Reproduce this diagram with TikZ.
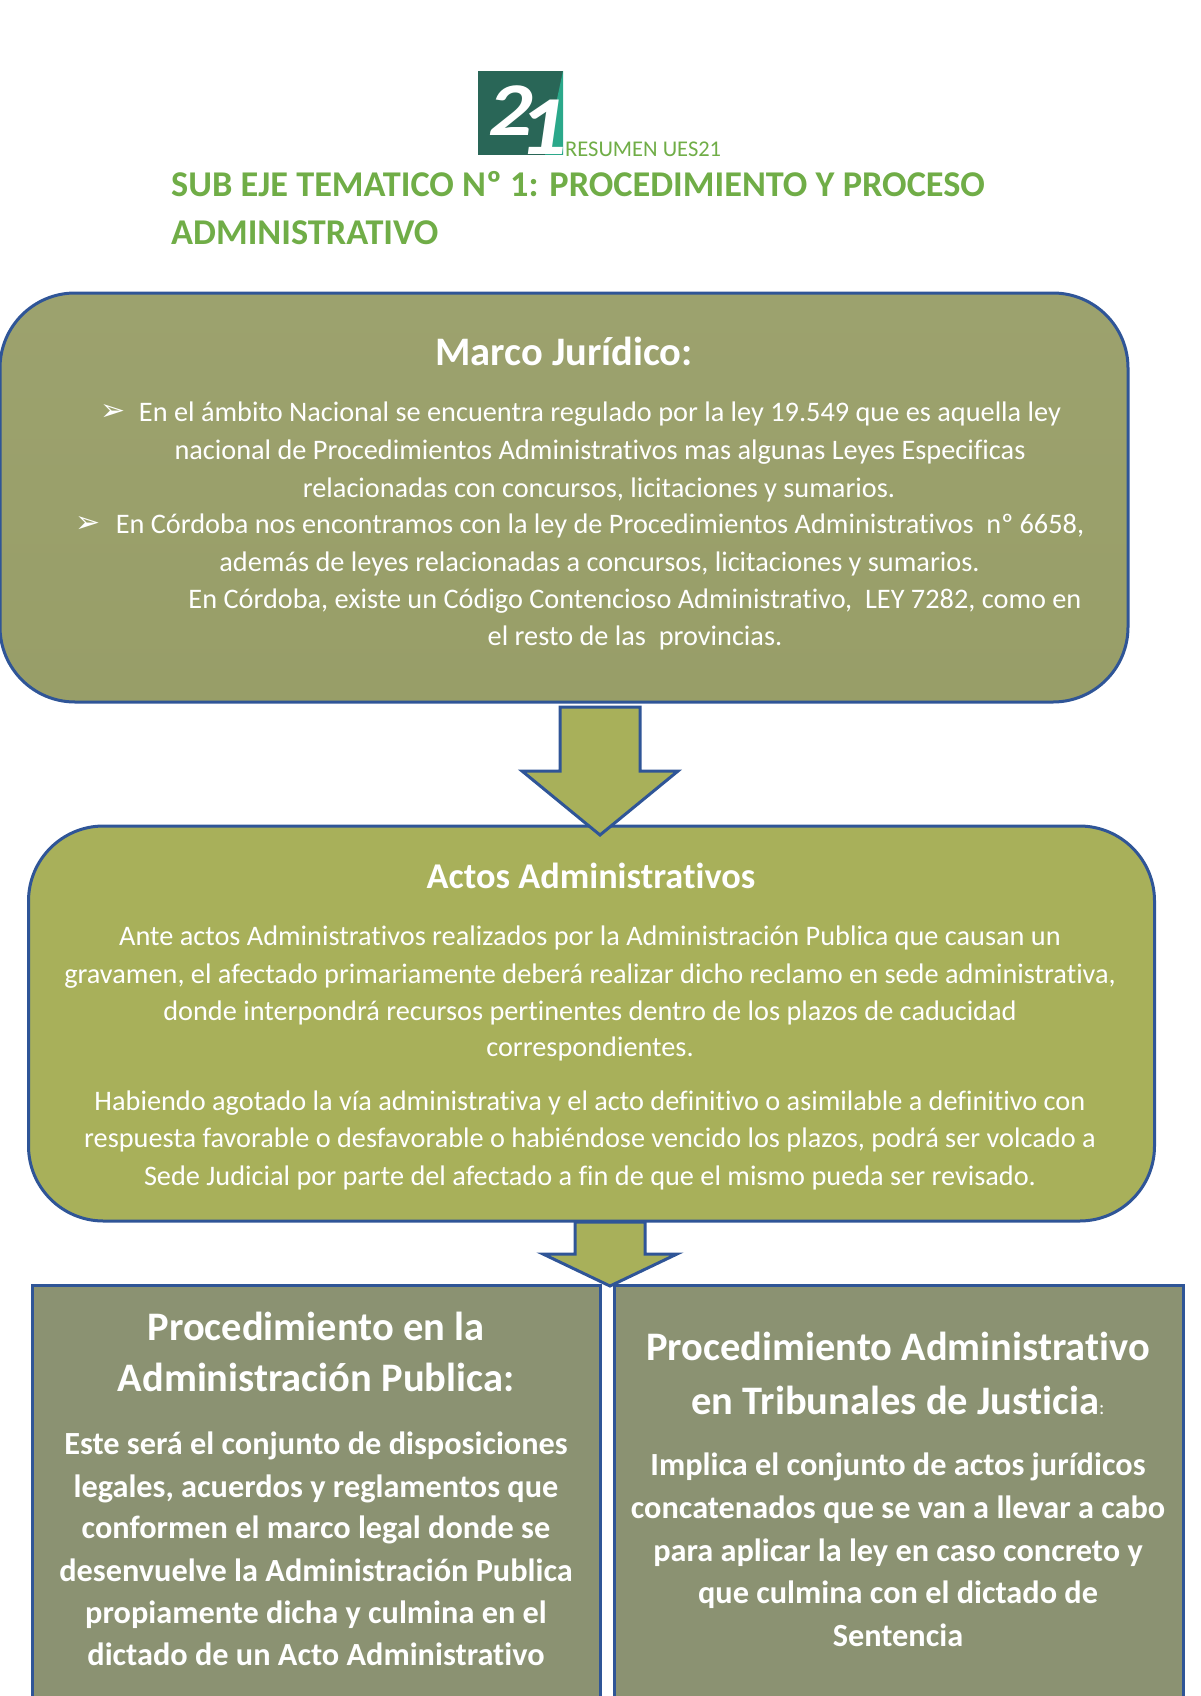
\documentclass[tikz,border=0pt]{standalone}
\usepackage{fontspec}
\setmainfont{Carlito}[Ligatures=NoCommon]
\newfontfamily\dingfont{DejaVu Sans}
\usepackage{tikz}

\definecolor{marcofill}{HTML}{989E68}
\definecolor{actosfill}{HTML}{A8B05A}
\definecolor{procfill}{HTML}{8B9272}
\definecolor{borderblue}{HTML}{2F5597}
\definecolor{headgreen}{HTML}{70AD47}
\definecolor{logodark}{HTML}{296657}
\definecolor{logoteal}{HTML}{2BA88A}

\tikzset{
    roundbox/.style={draw=borderblue, line width=3pt, rounded corners=75pt, inner sep=0pt},
    procbox/.style={draw=borderblue, line width=3pt, fill=procfill},
    blockarrow/.style={draw=borderblue, line width=3pt, fill=actosfill, line join=miter},
    linetext/.style={text=white, inner sep=0pt},
    headtext/.style={text=headgreen, font=\fontsize{36.3}{40}\selectfont\bfseries, anchor=west, inner sep=0pt},
    bodytext/.style={linetext, font=\fontsize{28.3}{32}\selectfont, text height=25.5pt, text depth=6.5pt},
    bullettext/.style={text=white, font=\dingfont\fontsize{30}{32}\selectfont, inner sep=0pt},
    titletext/.style={linetext, font=\fontsize{40.5}{44}\selectfont\bfseries, text height=36.5pt, text depth=9.3pt},
    actostext/.style={linetext, font=\fontsize{36.3}{40}\selectfont\bfseries, text height=32.7pt, text depth=8.3pt},
    procbody/.style={linetext, font=\fontsize{32.3}{36}\selectfont\bfseries, text height=29pt, text depth=7.4pt},
}

\begin{document}
\begin{tikzpicture}[x=1pt, y=-1pt]
    \clip (0,0) rectangle (1200,1696);

    % Logo
    \fill[logodark] (478,71) rectangle (563,155);
    \fill[logoteal] (563,71) -- (563,155) -- (545,155) -- cycle;
    \node[text=white, font=\fontsize{76}{76}\selectfont\bfseries\itshape, inner sep=0pt, xscale=1.15, anchor=base west] (logonum) at (488,136) {2\kern-12pt\raisebox{-19pt}{\fontsize{84}{84}\selectfont 1}};
    \node[text=headgreen, font=\fontsize{22.5}{24}\selectfont, anchor=west, inner sep=0pt] (resumen) at (565,149) {RESUMEN UES21};

    % Heading
    \node[headtext] (headone) at (171,184) {SUB EJE TEMATICO Nº 1: PROCEDIMIENTO Y PROCESO};
    \node[headtext] (headtwo) at (171,233) {ADMINISTRATIVO};

    % Boxes
    \node[roundbox, top color=marcofill!96!white, bottom color=marcofill, minimum width=1128pt, minimum height=409pt] (marcobox) at (564,497.5) {};
    \node[roundbox, fill=actosfill, minimum width=1126pt, minimum height=395pt] (actosbox) at (591.5,1023.5) {};
    \draw[procbox] (32,1285) rectangle (600,1720);
    \draw[procbox] (614,1285) rectangle (1183,1720);

    % Block arrows
    \draw[blockarrow] (560,707) -- (640,707) -- (640,771) -- (678,771) -- (600,835) -- (522,771) -- (560,771) -- cycle;
    \draw[blockarrow] (575,1222) -- (645,1222) -- (645,1254) -- (677,1254) -- (610,1286) -- (543,1254) -- (575,1254) -- cycle;

    % Marco Juridico
    \node[titletext] (marcotitle) at (564,352) {Marco Jurídico:};
    \node[bullettext] (bulletone) at (113,412) {➢};
    \node[bodytext] (marcoa) at (600,412) {En el ámbito Nacional se encuentra regulado por la ley 19.549 que es aquella ley};
    \node[bodytext] (marcob) at (600,450) {nacional de Procedimientos Administrativos mas algunas Leyes Especificas};
    \node[bodytext] (marcoc) at (599,488) {relacionadas con concursos, licitaciones y sumarios.};
    \node[bullettext] (bullettwo) at (88,524) {➢};
    \node[bodytext] (marcod) at (600,524) {En Córdoba nos encontramos con la ley de Procedimientos Administrativos\ \ nº 6658,};
    \node[bodytext] (marcoe) at (599.5,562) {además de leyes relacionadas a concursos, licitaciones y sumarios.};
    \node[bodytext] (marcof) at (635,599) {En Córdoba, existe un Código Contencioso Administrativo,\ \ LEY 7282, como en};
    \node[bodytext] (marcog) at (635,636) {el resto de las\ \ provincias.};

    % Actos Administrativos
    \node[actostext] (actostitle) at (591,876) {Actos Administrativos};
    \node[bodytext] (actosa) at (590,936) {Ante actos Administrativos realizados por la Administración Publica que causan un};
    \node[bodytext] (actosb) at (590,974) {gravamen, el afectado primariamente deberá realizar dicho reclamo en sede administrativa,};
    \node[bodytext] (actosc) at (590,1011) {donde interpondrá recursos pertinentes dentro de los plazos de caducidad};
    \node[bodytext] (actosd) at (590,1047) {correspondientes.};
    \node[bodytext] (actose) at (590,1101) {Habiendo agotado la vía administrativa y el acto definitivo o asimilable a definitivo con};
    \node[bodytext] (actosf) at (590,1138) {respuesta favorable o desfavorable o habiéndose vencido los plazos, podrá ser volcado a};
    \node[bodytext] (actosg) at (590,1176) {Sede Judicial por parte del afectado a fin de que el mismo pueda ser revisado.};

    % Procedimiento, left
    \node[titletext] (lefttitlea) at (316,1327) {Procedimiento en la};
    \node[titletext] (lefttitleb) at (316,1378) {Administración Publica:};
    \node[procbody] (lefta) at (316,1444) {Este será el conjunto de disposiciones};
    \node[procbody] (leftb) at (316,1487) {legales, acuerdos y reglamentos que};
    \node[procbody] (leftc) at (316,1528) {conformen el marco legal donde se};
    \node[procbody] (leftd) at (316,1571) {desenvuelve la Administración Publica};
    \node[procbody] (lefte) at (316,1613) {propiamente dicha y culmina en el};
    \node[procbody] (leftf) at (316,1655) {dictado de un Acto Administrativo};

    % Procedimiento, right
    \node[titletext] (righttitlea) at (898,1347) {Procedimiento Administrativo};
    \node[titletext] (righttitleb) at (898,1401) {en Tribunales de Justicia{\fontsize{20}{22}\selectfont\mdseries:}};
    \node[procbody] (righta) at (898,1465) {Implica el conjunto de actos jurídicos};
    \node[procbody] (rightb) at (898,1508) {concatenados que se van a llevar a cabo};
    \node[procbody] (rightc) at (898,1551) {para aplicar la ley en caso concreto y};
    \node[procbody] (rightd) at (898,1593) {que culmina con el dictado de};
    \node[procbody] (righte) at (898,1636) {Sentencia};
\end{tikzpicture}
\end{document}
